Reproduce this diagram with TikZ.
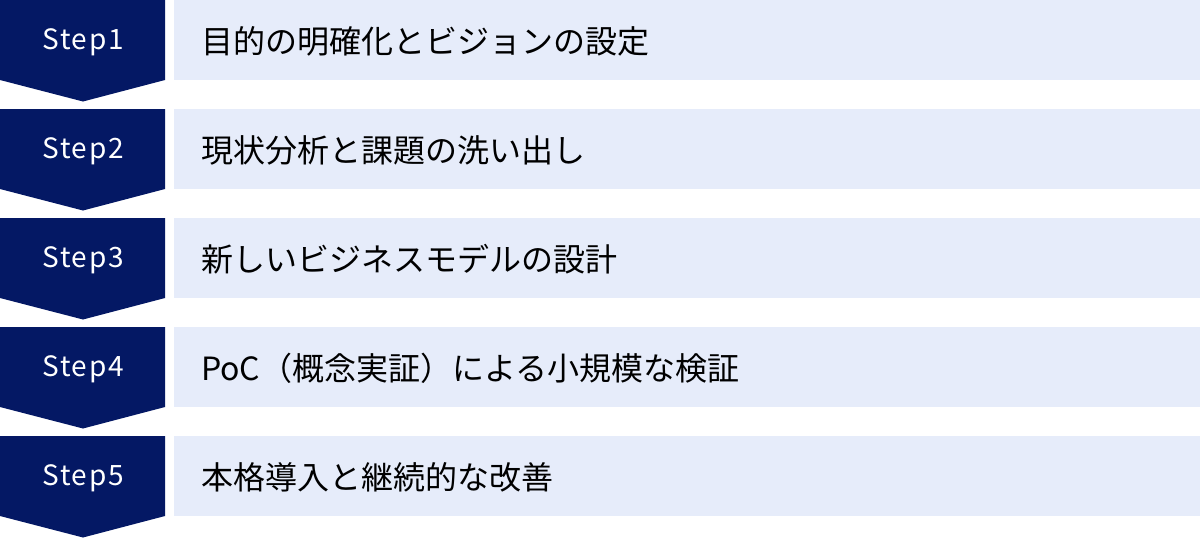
\documentclass[tikz,border=0pt]{standalone}
\usepackage{fontspec}
\setmainfont{Noto Sans CJK JP}
\newfontfamily\steplabelfont[LetterSpace=6]{Noto Sans CJK JP}
\definecolor{navy}{RGB}{4,24,100}
\definecolor{paleblue}{RGB}{230,236,250}
\begin{document}
\begin{tikzpicture}[x=1pt,y=-1pt,
  chevron/.style={fill=navy,draw=none},
  itembox/.style={fill=paleblue,draw=none},
  steplabel/.style={text=white,font=\steplabelfont\fontsize{28}{32}\selectfont,anchor=center,inner sep=0pt},
  itemtext/.style={text=black,font=\fontsize{32}{36}\selectfont,anchor=west,inner sep=0pt}]
\useasboundingbox (0,0) rectangle (1200,538);
\fill[white] (0,0) rectangle (1200,538);
\foreach \i/\t in {0/目的の明確化とビジョンの設定,1/現状分析と課題の洗い出し,2/新しいビジネスモデルの設計,3/PoC（概念実証）による小規模な検証,4/本格導入と継続的な改善}{
  \pgfmathsetmacro{\yy}{109*\i}
  \pgfmathtruncatemacro{\n}{\i+1}
  \fill[chevron] (0,\yy) -- (165,\yy) -- (165,\yy+80) -- (83,\yy+101.5) -- (0,\yy+80) -- cycle;
  \fill[itembox] (174,\yy) rectangle (1200,\yy+80);
  \node[steplabel] (s\n) at (83,\yy+42.5) {Step\n};
  \node[itemtext] (t\n) at (201,\yy+41) {\t};
}
\end{tikzpicture}
\end{document}
